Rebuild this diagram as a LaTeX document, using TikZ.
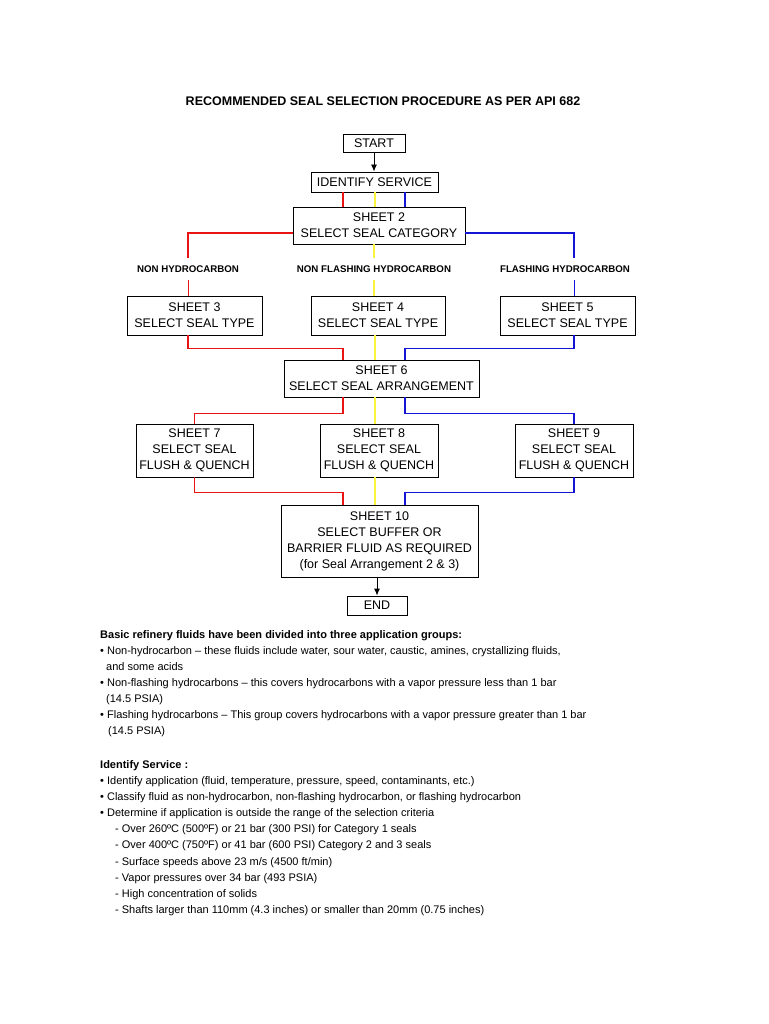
\documentclass[tikz,border=0pt]{standalone}
\usepackage{fontspec}
\setmainfont{Liberation Sans}
\usepackage{tikz}
\usetikzlibrary{positioning, arrows, arrows.meta}
\definecolor{sRed}{RGB}{232,20,20}
\definecolor{sYellow}{RGB}{250,245,60}
\definecolor{sBlue}{RGB}{20,20,215}
\tikzset{
  box/.style={draw, rectangle, inner sep=0pt, line width=0.9pt, align=center, font=\fontsize{12.5}{16}\selectfont},
  grp/.style={rectangle, inner sep=0pt, minimum height=22pt, font=\fontsize{9.7}{11}\selectfont\bfseries},
  bodytxt/.style={rectangle, inner sep=0pt, align=left, anchor=north west, font=\fontsize{11}{16.1}\selectfont},
  flow/.style={-{Latex[length=7pt,width=6pt]}, line width=0.9pt},
  redl/.style={draw=sRed, line width=1.6pt},
  yell/.style={draw=sYellow, line width=1.4pt},
  blul/.style={draw=sBlue, line width=1.6pt}
}
\begin{document}
\begin{tikzpicture}[x=1pt, y=-1pt]
  \useasboundingbox (0,0) rectangle (768,1024);
  \node[font=\fontsize{12.5}{15}\selectfont\bfseries] (title) at (383,101) {RECOMMENDED SEAL SELECTION PROCEDURE AS PER API 682};

  % flow chart boxes
  \node[box, minimum width=62pt, minimum height=18pt] (start) at (374,143) {START};
  \node[box, minimum width=127pt, minimum height=20pt] (idsvc) at (374.5,182) {IDENTIFY SERVICE};
  \node[box, minimum width=172pt, minimum height=37pt] (s2) at (379,225.5) {SHEET 2\\SELECT SEAL CATEGORY};
  \node[grp] (lblnon) at (188,269) {NON HYDROCARBON};
  \node[grp] (lblnfh) at (374,269) {NON FLASHING HYDROCARBON};
  \node[grp] (lblfh) at (565,269) {FLASHING HYDROCARBON};
  \node[box, minimum width=135pt, minimum height=39pt] (s3) at (194.5,315.5) {SHEET 3\\SELECT SEAL TYPE};
  \node[box, minimum width=134pt, minimum height=39pt] (s4) at (378,315.5) {SHEET 4\\SELECT SEAL TYPE};
  \node[box, minimum width=135pt, minimum height=39pt] (s5) at (567.5,315.5) {SHEET 5\\SELECT SEAL TYPE};
  \node[box, minimum width=195pt, minimum height=37pt] (s6) at (381.5,378.5) {SHEET 6\\SELECT SEAL ARRANGEMENT};
  \node[box, minimum width=117pt, minimum height=53pt] (s7) at (194.5,450.5) {SHEET 7\\SELECT SEAL\\FLUSH \& QUENCH};
  \node[box, minimum width=118pt, minimum height=53pt] (s8) at (379,450.5) {SHEET 8\\SELECT SEAL\\FLUSH \& QUENCH};
  \node[box, minimum width=118pt, minimum height=53pt] (s9) at (574,450.5) {SHEET 9\\SELECT SEAL\\FLUSH \& QUENCH};
  \node[box, minimum width=197pt, minimum height=72pt] (s10) at (379.5,541) {SHEET 10\\SELECT BUFFER OR\\BARRIER FLUID AS REQUIRED\\(for Seal Arrangement 2 \& 3)};
  \node[box, minimum width=60pt, minimum height=19pt] (end) at (377,605.5) {END};

  % lanes
  \coordinate (rl) at (343,0);
  \coordinate (yl) at (375,0);
  \coordinate (bl) at (405,0);

  \draw[flow] (start.south) -- (start.south |- idsvc.north);
  \draw[redl] (idsvc.south -| rl) -- (s2.north -| rl);
  \draw[yell] (idsvc.south -| yl) -- (s2.north -| yl);
  \draw[blul] (idsvc.south -| bl) -- (s2.north -| bl);

  \draw[redl] ([yshift=-7.5pt]s2.west) -| (lblnon.north);
  \draw[yell] (s2.south -| lblnfh) -- (lblnfh.north);
  \draw[blul] ([yshift=-7.5pt]s2.east) -| ([xshift=9pt]lblfh.north);
  \draw[redl, line width=1pt] (lblnon.south) -- (lblnon.south |- s3.north);
  \draw[yell] (lblnfh.south) -- (lblnfh.south |- s4.north);
  \draw[blul, line width=1pt] ([xshift=9pt]lblfh.south) -- ([xshift=9pt]lblfh.south |- s5.north);

  \draw[redl] (s3.south -| lblnon) -- ++(0,13) -| (s6.north -| rl);
  \draw[yell] (s4.south -| yl) -- (s6.north -| yl);
  \draw[blul] ([xshift=9pt]s5.south -| lblfh) -- ++(0,13) -| (s6.north -| bl);

  \draw[redl, line width=1.1pt] (s6.south -| rl) -- ++(0,16) -| (s7.north);
  \draw[yell] (s6.south -| yl) -- (s8.north -| yl);
  \draw[blul, line width=1.1pt] (s6.south -| bl) -- ++(0,16) -| (s9.north);

  \draw[redl, line width=1.1pt] (s7.south) -- ++(0,15) -| (s10.north -| rl);
  \draw[yell] (s8.south -| yl) -- (s10.north -| yl);
  \draw[blul] (s9.south) -- ++(0,15) -| (s10.north -| bl);
  \draw[flow] (s10.south -| end.north) -- (end.north);

  % notes
  \node[bodytxt] (groups) at (100,630) {\textbf{Basic refinery fluids have been divided into three application groups:}\\
    • Non-hydrocarbon – these fluids include water, sour water, caustic, amines, crystallizing fluids,\\
    \hspace*{6pt}and some acids\\
    • Non-flashing hydrocarbons – this covers hydrocarbons with a vapor pressure less than 1 bar\\
    \hspace*{6pt}(14.5 PSIA)\\
    • Flashing hydrocarbons – This group covers hydrocarbons with a vapor pressure greater than 1 bar\\
    \hspace*{8pt}(14.5 PSIA)};
  \node[bodytxt, below=23pt of groups.south west, anchor=north west] (service) {\textbf{Identify Service :}\\
    • Identify application (fluid, temperature, pressure, speed, contaminants, etc.)\\
    • Classify fluid as non-hydrocarbon, non-flashing hydrocarbon, or flashing hydrocarbon\\
    • Determine if application is outside the range of the selection criteria\\
    \hspace*{15pt}- Over 260ºC (500ºF) or 21 bar (300 PSI) for Category 1 seals\\
    \hspace*{15pt}- Over 400ºC (750ºF) or 41 bar (600 PSI) Category 2 and 3 seals\\
    \hspace*{15pt}- Surface speeds above 23 m/s (4500 ft/min)\\
    \hspace*{15pt}- Vapor pressures over 34 bar (493 PSIA)\\
    \hspace*{15pt}- High concentration of solids\\
    \hspace*{15pt}- Shafts larger than 110mm (4.3 inches) or smaller than 20mm (0.75 inches)};
\end{tikzpicture}
\end{document}
